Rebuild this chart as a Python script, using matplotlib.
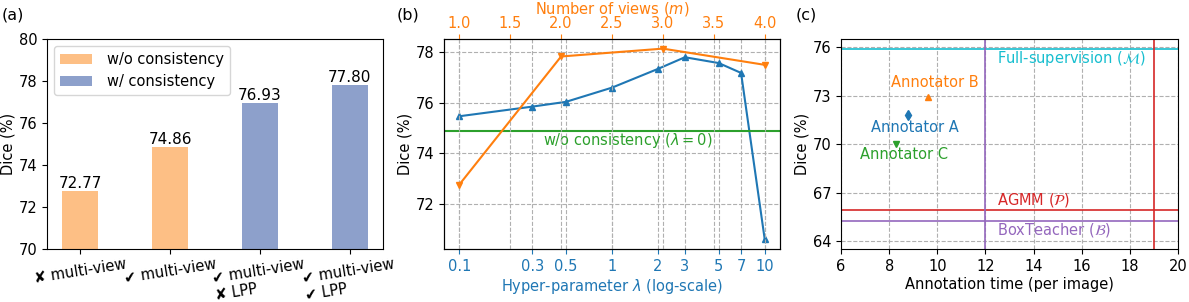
import matplotlib.pyplot as plt
import numpy as np

# (a) ablation bars
bar_labels = ["\u2718 multi-view", "\u2714 multi-view",
              "\u2714 multi-view\n\u2718 LPP", "\u2714 multi-view\n\u2714 LPP"]
bar_values = [72.77, 74.86, 76.93, 77.80]
bar_groups = ["w/o consistency", "w/o consistency", "w/ consistency", "w/ consistency"]

# (b) hyper-parameter lambda and number of views
lam = [0.1, 0.3, 0.5, 1, 2, 3, 5, 7, 10]
lam_dice = [75.46, 75.84, 76.03, 76.59, 77.33, 77.79, 77.56, 77.17, 70.60]
views = [1, 2, 3, 4]
views_dice = [72.76, 77.82, 78.13, 77.49]
no_consistency = 74.86

# (c) annotation time vs dice
annot_names = ["Annotator A", "Annotator B", "Annotator C"]
annot_time = [8.8, 9.6, 8.3]
annot_dice = [71.8, 72.9, 70.0]
full_sup = 75.9
agmm = 65.95
boxteacher = 65.27
time_box = 12
time_poly = 19

orange_bar = "#fdbf85"
blue_bar = "#8da0cb"
c_blue = "#1f77b4"
c_orange = "#ff7f0e"
c_green = "#2ca02c"
c_red = "#d62728"
c_purple = "#9467bd"
c_cyan = "#17becf"

plt.rcParams["font.size"] = 10.5

fig = plt.figure(figsize=(11.89, 3.02), dpi=100)
ax1 = fig.add_axes([47 / 1189, 1 - 249 / 302, 336 / 1189, 210 / 302])
ax2 = fig.add_axes([444 / 1189, 1 - 249 / 302, 336 / 1189, 210 / 302])
ax3 = fig.add_axes([841 / 1189, 1 - 249 / 302, 337 / 1189, 210 / 302])

# ---- (a)
x = np.arange(len(bar_values))
cols = [orange_bar if g == "w/o consistency" else blue_bar for g in bar_groups]
bars = ax1.bar(x, bar_values, width=0.4, color=cols)
for xi, v in zip(x, bar_values):
    ax1.text(xi, v, "%.2f" % v, ha="center", va="bottom", fontsize=11)
ax1.set_ylim(70, 80)
ax1.set_ylabel("Dice (%)", labelpad=2)
ax1.set_xticks(x)
ax1.set_xticklabels(bar_labels, rotation=9, ha="center", multialignment="left")
ax1.tick_params(axis="x", pad=2)
ax1.legend([bars[0], bars[2]], ["w/o consistency", "w/ consistency"],
           loc="upper left", fontsize=10.5, handlelength=2.2, handletextpad=1.0)
fig.text(2 / 1189, 1 - 15 / 302, "(a)", fontsize=11.5, va="center")

# ---- (b)
ax2.plot(lam, lam_dice, marker="^", color=c_blue, markersize=5)
ax2.set_xscale("log")
ax2.set_xticks(lam)
ax2.set_xticklabels([str(v) for v in lam])
ax2.xaxis.set_minor_locator(plt.NullLocator())
ax2.tick_params(axis="x", colors=c_blue, labelcolor=c_blue)
ax2.set_xlabel(r"Hyper-parameter $\lambda$ (log-scale)", color=c_blue, labelpad=2)
ax2.set_ylabel("Dice (%)", labelpad=2)
ax2.set_yticks([72, 74, 76, 78])
ax2.grid(True, linestyle="--", color="#b0b0b0", linewidth=0.8)
ax2.axhline(no_consistency, color=c_green, linewidth=1.5)
ax2.text(1.27, 74.5, r"w/o consistency ($\lambda = 0$)",
         color=c_green, ha="center", va="center")

ax2t = ax2.twiny()
ax2t.plot(views, views_dice, marker="v", color=c_orange, markersize=5)
ax2t.set_xticks([1.0, 1.5, 2.0, 2.5, 3.0, 3.5, 4.0])
ax2t.tick_params(axis="x", colors=c_orange, labelcolor=c_orange, pad=2)
ax2t.set_xlabel(r"Number of views ($m$)", color=c_orange, labelpad=2)
ax2t.grid(True, axis="x", linestyle="--", color="#b0b0b0", linewidth=0.8)
ax2.set_ylim(70.22, 78.51)
fig.text(397 / 1189, 1 - 15 / 302, "(b)", fontsize=11.5, va="center")

# ---- (c)
ax3.plot(annot_time[0], annot_dice[0], marker="d", color=c_blue, markersize=5, linestyle="none")
ax3.plot(annot_time[1], annot_dice[1], marker="^", color=c_orange, markersize=5, linestyle="none")
ax3.plot(annot_time[2], annot_dice[2], marker="v", color=c_green, markersize=5, linestyle="none")
ax3.text(9.08, 71.07, annot_names[0], color=c_blue, ha="center", va="center")
ax3.text(9.9, 73.8, annot_names[1], color=c_orange, ha="center", va="center")
ax3.text(8.6, 69.34, annot_names[2], color=c_green, ha="center", va="center")

ax3.axhline(full_sup, color=c_cyan, linewidth=1.2)
ax3.axhline(agmm, color=c_red, linewidth=1.2)
ax3.axhline(boxteacher, color=c_purple, linewidth=1.2)
ax3.axvline(time_box, color=c_purple, linewidth=1.2)
ax3.axvline(time_poly, color=c_red, linewidth=1.2)
ax3.text(12.5, 75.3, r"Full-supervision ($\mathcal{M}$)", color=c_cyan, va="center")
ax3.text(12.5, 66.55, r"AGMM ($\mathcal{P}$)", color=c_red, va="center")
ax3.text(12.5, 64.7, r"BoxTeacher ($\mathcal{B}$)", color=c_purple, va="center")

ax3.set_xlim(6, 20)
ax3.set_ylim(63.52, 76.52)
ax3.set_xticks([6, 8, 10, 12, 14, 16, 18, 20])
ax3.set_yticks([64, 67, 70, 73, 76])
ax3.grid(True, linestyle="--", color="#b0b0b0", linewidth=0.8)
ax3.set_xlabel("Annotation time (per image)", labelpad=2)
ax3.set_ylabel("Dice (%)", labelpad=2)
fig.text(796 / 1189, 1 - 15 / 302, "(c)", fontsize=11.5, va="center")

fig.savefig("out.png", dpi=100)
